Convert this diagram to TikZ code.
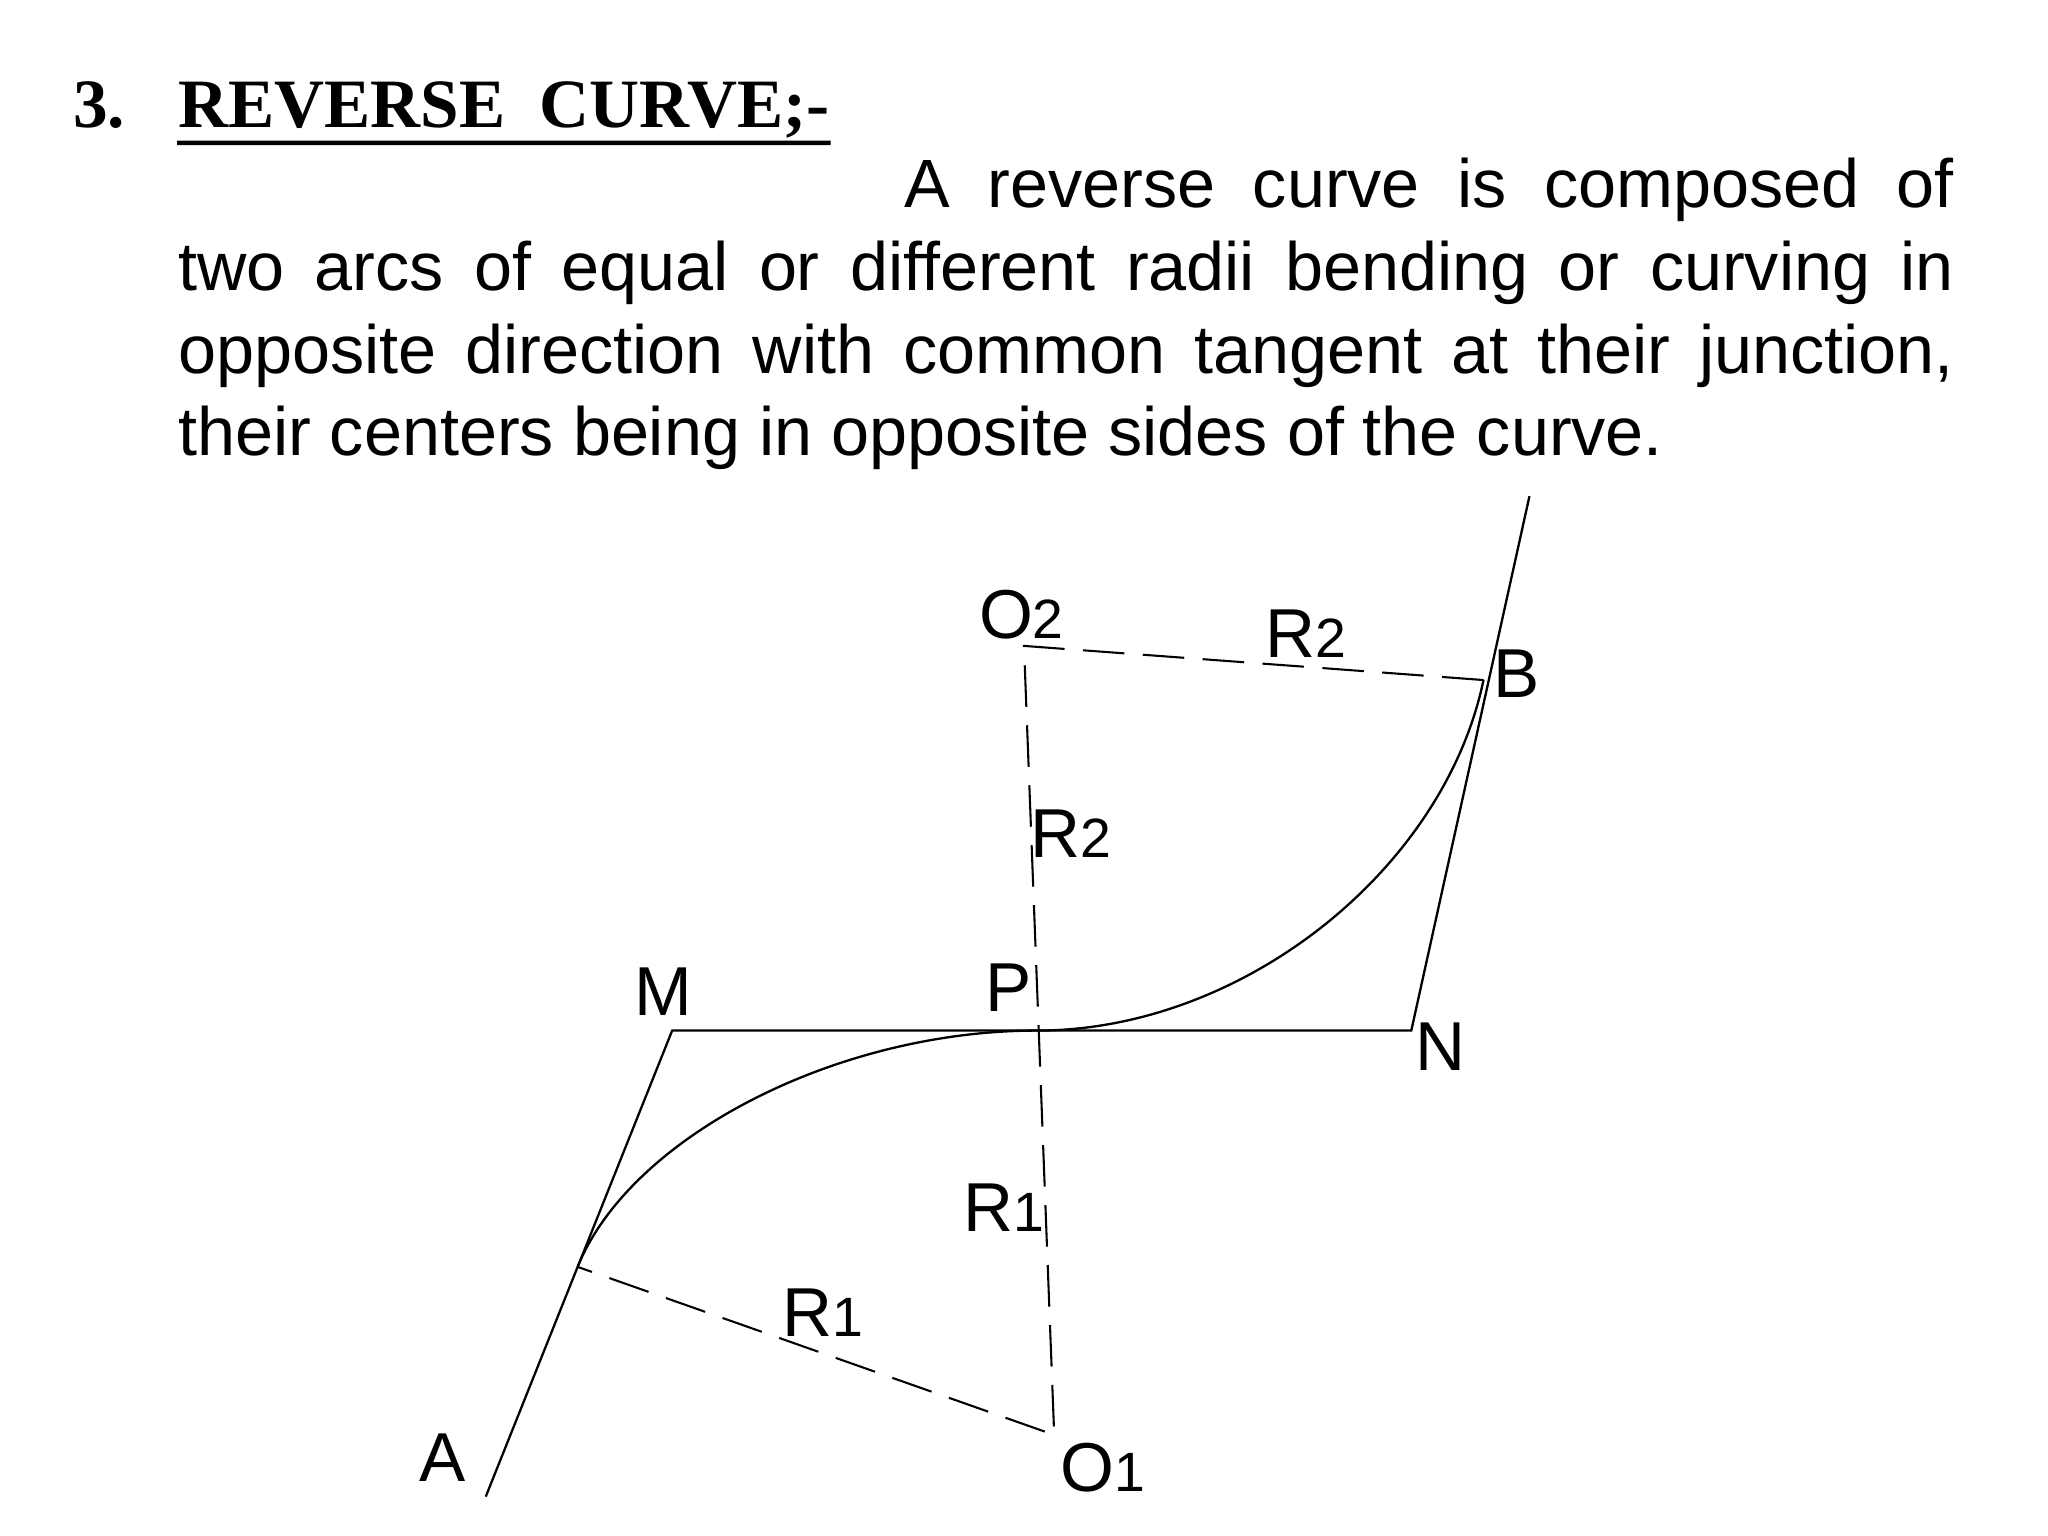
\documentclass[tikz,border=0pt]{standalone}
\usepackage{fontspec}
\setmainfont{Liberation Sans}
\newfontfamily\titlefont{Liberation Serif}
\begin{document}
\begin{tikzpicture}[x=0.01cm,y=-0.01cm,
  lbl/.style={inner sep=0pt,font=\fontsize{15}{15}\selectfont},
  dsh/.style={dash pattern=on 9pt off 4pt,line width=0.45pt},
  ln/.style={line width=0.5pt}]
\useasboundingbox (0,0) rectangle (1560,1170);
\node[anchor=base west,inner sep=0pt,font=\titlefont\bfseries\fontsize{15}{15}\selectfont] (num) at (55,97) {3.};
\node[anchor=base west,inner sep=0pt,font=\titlefont\bfseries\fontsize{15}{15}\selectfont] (title) at (135,97) {REVERSE\ \ CURVE;-};
\draw[line width=1pt] (title.south west) ++(0,3) -- ([yshift=-0.03cm]title.south east);
\node[anchor=north west,inner sep=0pt,text width=13.52cm,align=justify,font=\fontsize{14.8}{17.9}\selectfont] (para) at (135,120)
{\hspace*{5.53cm}A reverse curve is composed of\linebreak two arcs of equal or different radii bending or curving in\linebreak opposite direction with common tangent at their junction,\linebreak their centers being in opposite sides of the curve.};
\coordinate (A) at (370,1140);
\coordinate (T) at (440,965);
\coordinate (M) at (512,785);
\coordinate (P) at (790,785);
\coordinate (N) at (1075,785);
\coordinate (B) at (1130,518);
\coordinate (E) at (1165,378);
\coordinate (O2) at (780,492);
\coordinate (O1) at (803,1093);
\draw[ln] (A) -- (M) -- (N) -- (E);
\draw[dsh] (B) -- (O2) -- (O1) -- (T);
\draw[ln] (T) .. controls (480,866) and (637,785) .. (P) .. controls (947,785) and (1100,662) .. (B);
\node[lbl] (lo2) at (778,468) {O{\fontsize{12}{12}\selectfont 2}};
\node[lbl] (lr2a) at (995,483) {R{\fontsize{12}{12}\selectfont 2}};
\node[lbl] (lb) at (1155,513) {B};
\node[lbl] (lr2b) at (816,635) {R{\fontsize{12}{12}\selectfont 2}};
\node[lbl] (lm) at (505,755) {M};
\node[lbl] (lp) at (768,752) {P};
\node[lbl] (ln) at (1097,797) {N};
\node[lbl] (lr1a) at (765,920) {R{\fontsize{12}{12}\selectfont 1}};
\node[lbl] (lr1b) at (627,1000) {R{\fontsize{12}{12}\selectfont 1}};
\node[lbl] (la) at (337,1110) {A};
\node[lbl] (lo1) at (840,1118) {O{\fontsize{12}{12}\selectfont 1}};
\end{tikzpicture}
\end{document}
